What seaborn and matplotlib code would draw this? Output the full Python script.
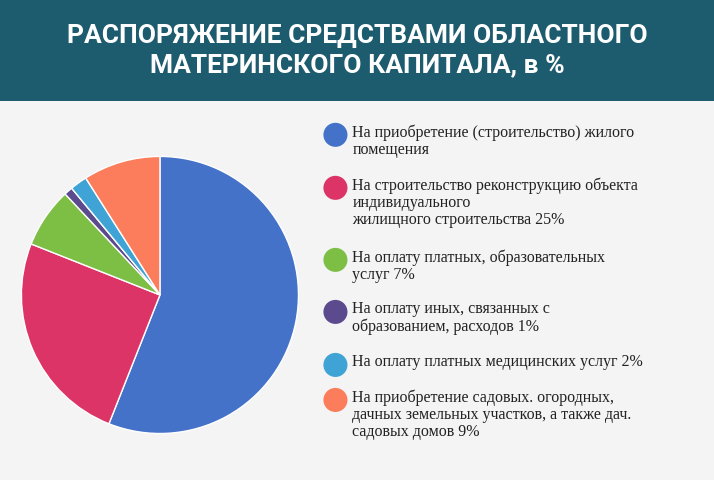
import matplotlib
matplotlib.use("Agg")
import matplotlib.pyplot as plt
import seaborn as sns

sns.set_theme(style="white")

labels = [
    "На приобретение (строительство) жилого\nпомещения",
    "На строительство реконструкцию объекта\nиндивидуального\nжилищного строительства 25%",
    "На оплату платных, образовательных\nуслуг 7%",
    "На оплату иных, связанных с\nобразованием, расходов 1%",
    "На оплату платных медицинских услуг 2%",
    "На приобретение садовых. огородных,\nдачных земельных участков, а также дач.\nсадовых домов 9%",
]
shares = [56, 25, 7, 1, 2, 9]
colors = ["#4472c8", "#dc3466", "#7dbf45", "#5c4a8f", "#3fa3d6", "#fb7d5b"]

fig = plt.figure(figsize=(7.14, 4.8), dpi=100)
fig.patch.set_facecolor("#f4f4f4")

# header band
hdr = fig.add_axes([0, 0.79, 1, 0.21])
hdr.set_facecolor("#1d5b6f")
hdr.set_xticks([]); hdr.set_yticks([])
for s in hdr.spines.values():
    s.set_visible(False)
hdr.text(0.5, 0.5, "РАСПОРЯЖЕНИЕ СРЕДСТВАМИ ОБЛАСТНОГО\nМАТЕРИНСКОГО КАПИТАЛА, в %",
         ha="center", va="center", color="white", fontsize=19, fontweight="bold",
         fontfamily="Roboto", linespacing=1.3, transform=hdr.transAxes)

ax = fig.add_axes([0.028, 0.094, 0.392, 0.583])
ax.pie(shares, colors=colors, startangle=90, counterclock=False,
       wedgeprops=dict(edgecolor="white", linewidth=1))
ax.set_xlim(-1.01, 1.01); ax.set_ylim(-1.01, 1.01)
ax.set_aspect("equal")

# legend
lg = fig.add_axes([0.45, 0.0, 0.55, 0.79])
lg.axis("off")
lg.set_xlim(0, 1); lg.set_ylim(0, 1)
marker_px = [135, 188, 260, 312, 365, 400]
for lab, c, p in zip(labels, colors, marker_px):
    y = (480 - p) / 379
    lg.scatter([0.036], [y], s=300, color=c, edgecolor="none")
    lg.text(0.079, y + 0.028, lab, va="top", ha="left", fontsize=11.5,
            fontfamily="Liberation Serif", color="#222222", linespacing=1.1)

fig.savefig("out.png", dpi=100, facecolor=fig.get_facecolor())
